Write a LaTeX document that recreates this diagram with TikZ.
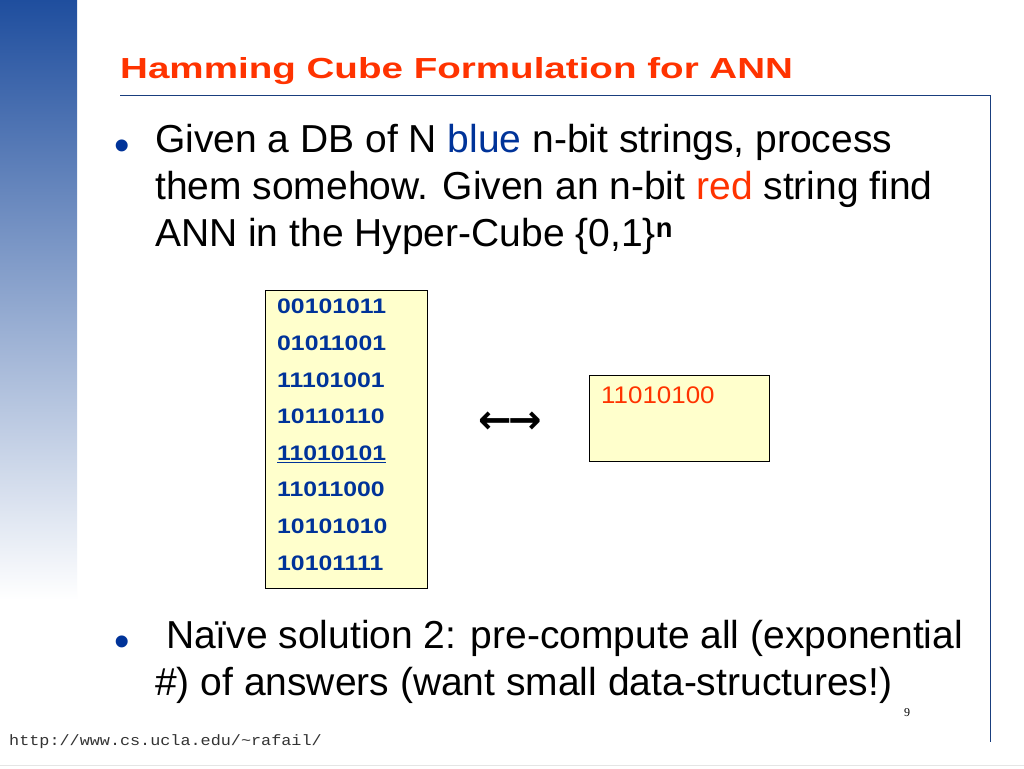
\documentclass[tikz,border=0pt]{standalone}
\usepackage{fontspec}
\setmainfont{Liberation Sans}
\newfontfamily\monof{Liberation Mono}
\newfontfamily\serf{Liberation Serif}
\newfontfamily\djv{DejaVu Sans}
\definecolor{ttl}{HTML}{FF3300}
\definecolor{dbl}{HTML}{003399}
\definecolor{bboxfill}{HTML}{FFFFCC}
\definecolor{barblue}{HTML}{1F4E9E}
\begin{document}
\begin{tikzpicture}[x=1pt,y=-1pt,
  body/.style={anchor=north west,align=left,font=\fontsize{39}{47}\selectfont,inner sep=0pt},
  dbbox/.style={draw=black,fill=bboxfill,line width=1pt}]
\useasboundingbox (0,0) rectangle (1024,768);
\fill[white] (0,0) rectangle (1024,768);
\shade[top color=barblue,bottom color=white] (0,0) rectangle (77,600);
\node[anchor=base west,inner sep=0pt,text=ttl,font=\bfseries\fontsize{29}{34}\selectfont] (title) at (120,78) {\scalebox{1.33}[1]{Hamming Cube Formulation for ANN}};
\draw[barblue!80!black,line width=1pt] (120,95) -- (990,95) -- (990,742);
\node[anchor=base west,inner sep=0pt,text=dbl,font=\fontsize{44}{44}\selectfont] (b1) at (114,160) {•};
\node[body] (t1) at (155,124) {Given a DB of N \textcolor{dbl}{blue} n-bit strings, process\\them somehow. Given an n-bit \textcolor{ttl}{red} string find\\ANN in the Hyper-Cube \{0,1\}\textsuperscript{\bfseries n}};
\node[dbbox,minimum width=162pt,minimum height=298pt,anchor=north west,inner sep=0pt] (db) at (265,290) {};
\node[anchor=north west,align=left,inner sep=0pt,text=dbl,font=\bfseries\fontsize{21}{36.6}\selectfont] (dbt) at (277,299) {\scalebox{1.18}[1]{00101011}\\\scalebox{1.18}[1]{01011001}\\\scalebox{1.18}[1]{11101001}\\\scalebox{1.18}[1]{10110110}\\\underline{\scalebox{1.18}[1]{11010101}}\\\scalebox{1.18}[1]{11011000}\\\scalebox{1.18}[1]{10101010}\\\scalebox{1.18}[1]{10101111}};
\node[font=\djv\bfseries\fontsize{40}{40}\selectfont,inner sep=0pt] (arr) at (510,423) {←\kern-4pt→};
\node[dbbox,minimum width=180pt,minimum height=86pt,anchor=north west,inner sep=0pt] (q) at (589,375) {};
\node[anchor=north west,inner sep=0pt,text=ttl,font=\fontsize{24}{28}\selectfont] (qt) at (601,387) {\scalebox{1.08}[1]{11010100}};
\node[anchor=base west,inner sep=0pt,text=dbl,font=\fontsize{44}{44}\selectfont] (b2) at (114,656) {•};
\node[body] (t2) at (155,620) {\ Naïve solution 2: pre-compute all (exponential\\\#) of answers (want small data-structures!)};
\node[anchor=base west,inner sep=0pt,font=\serf\fontsize{12}{12}\selectfont] (pg) at (904,716) {9};
\node[anchor=base west,inner sep=0pt,text=black!80,font=\monof\fontsize{15}{15}\selectfont] (url) at (9,745) {\scalebox{1.12}[1]{http://www.cs.ucla.edu/\textasciitilde rafail/}};
\draw[black!10] (0,765) -- (1024,765);
\end{tikzpicture}
\end{document}
